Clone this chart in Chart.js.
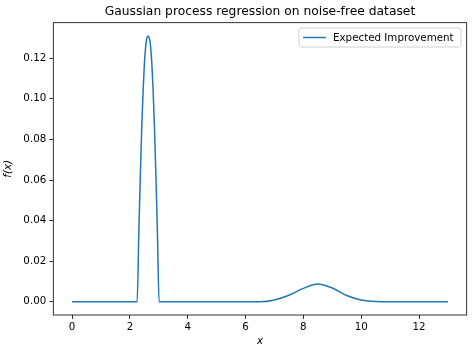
<!DOCTYPE html>
<html>
<head>
<meta charset="utf-8">
<script src="https://cdn.jsdelivr.net/npm/chart.js@4/dist/chart.umd.min.js"></script>
<style>
html,body{margin:0;padding:0;background:#fff;}
#wrap{width:474px;height:355px;position:relative;}
</style>
</head>
<body>
<div id="wrap"><canvas id="c" width="474" height="355"></canvas></div>
<script>
// ---- data ----
const xValues = [0, 1, 2, 2.25, 2.31, 2.36, 2.41, 2.46, 2.50, 2.54, 2.58, 2.63, 2.68, 2.72, 2.76, 2.80, 2.85, 2.90, 2.95, 3.01, 4, 5, 6, 6.5, 7.0, 7.5, 8.0, 8.5, 9.0, 9.5, 10.0, 10.5, 11, 12, 13];
const eiValues = [0, 0, 0, 0, 0.035, 0.062, 0.086, 0.105, 0.117, 0.125, 0.1295, 0.131, 0.1295, 0.125, 0.117, 0.105, 0.086, 0.062, 0.035, 0, 0, 0, 0, 0.0000, 0.0009, 0.0032, 0.0066, 0.0088, 0.0068, 0.0031, 0.0009, 0.0001, 0, 0, 0];
const xTicks = [0, 2, 4, 6, 8, 10, 12];
const yTicks = [0.00, 0.02, 0.04, 0.06, 0.08, 0.10, 0.12];
const seriesLabel = "Expected Improvement";
const chartTitle = "Gaussian process regression on noise-free dataset";
const xLabel = "x";
const yLabel = "f(x)";

const points = xValues.map((x, i) => ({x: x, y: eiValues[i]}));
const FONT = "'DejaVu Sans', sans-serif";

const decor = {
  id: 'decor',
  afterDraw(chart) {
    const ctx = chart.ctx;
    const a = chart.chartArea;
    ctx.save();
    // frame
    ctx.strokeStyle = '#000';
    ctx.lineWidth = 0.8;
    ctx.strokeRect(a.left, a.top, a.right - a.left, a.bottom - a.top);
    // title
    ctx.fillStyle = '#000';
    ctx.font = "12.3px " + FONT;
    ctx.textAlign = 'center';
    ctx.textBaseline = 'middle';
    ctx.fillText(chartTitle, (a.left + a.right) / 2, 12);
    // legend
    const bx = 299, by = 28, bw = 162, bh = 19, r = 2.5;
    ctx.beginPath();
    ctx.moveTo(bx + r, by);
    ctx.lineTo(bx + bw - r, by);
    ctx.quadraticCurveTo(bx + bw, by, bx + bw, by + r);
    ctx.lineTo(bx + bw, by + bh - r);
    ctx.quadraticCurveTo(bx + bw, by + bh, bx + bw - r, by + bh);
    ctx.lineTo(bx + r, by + bh);
    ctx.quadraticCurveTo(bx, by + bh, bx, by + bh - r);
    ctx.lineTo(bx, by + r);
    ctx.quadraticCurveTo(bx, by, bx + r, by);
    ctx.closePath();
    ctx.fillStyle = 'rgba(255,255,255,0.8)';
    ctx.fill();
    ctx.strokeStyle = '#d0d0d0';
    ctx.lineWidth = 1;
    ctx.stroke();
    ctx.strokeStyle = '#1f77b4';
    ctx.lineWidth = 1.5;
    ctx.beginPath();
    ctx.moveTo(303, by + bh / 2);
    ctx.lineTo(326, by + bh / 2);
    ctx.stroke();
    ctx.fillStyle = '#000';
    ctx.font = "10.3px " + FONT;
    ctx.textAlign = 'left';
    ctx.fillText(seriesLabel, 333, by + bh / 2 + 0.5);
    ctx.restore();
  }
};

new Chart(document.getElementById('c'), {
  type: 'line',
  data: {
    datasets: [{
      label: seriesLabel,
      data: points,
      borderColor: '#1f77b4',
      borderWidth: 1.5,
      pointRadius: 0,
      fill: false,
      cubicInterpolationMode: 'monotone'
    }]
  },
  options: {
    responsive: false,
    animation: false,
    devicePixelRatio: 1,
    layout: {padding: {left: 0, right: 7.3, top: 22.7, bottom: 0}},
    plugins: {legend: {display: false}, title: {display: false}, tooltip: {enabled: false}},
    scales: {
      x: {
        type: 'linear',
        min: -0.65,
        max: 13.65,
        afterBuildTicks: s => { s.ticks = xTicks.map(v => ({value: v})); },
        afterFit: s => { s.height = 40; },
        ticks: {color: '#000', font: {family: FONT, size: 10.3}, padding: 2, maxRotation: 0,
                callback: v => String(v)},
        grid: {drawOnChartArea: false, drawTicks: true, tickLength: 4, color: '#000', lineWidth: 0.8},
        border: {display: false},
        title: {display: true, text: xLabel, color: '#000', font: {family: FONT, size: 10.3, style: 'italic'}, padding: {top: 0, bottom: 7}}
      },
      y: {
        type: 'linear',
        min: -0.0065,
        max: 0.1375,
        afterBuildTicks: s => { s.ticks = yTicks.map(v => ({value: v})); },
        afterFit: s => { s.width = 53.3; },
        ticks: {color: '#000', font: {family: FONT, size: 10.3}, padding: 3,
                callback: v => Number(v).toFixed(2)},
        grid: {drawOnChartArea: false, drawTicks: true, tickLength: 4, color: '#000', lineWidth: 0.8},
        border: {display: false},
        title: {display: true, text: yLabel, color: '#000', font: {family: FONT, size: 10.3, style: 'italic'}, padding: {top: 2, bottom: 0}}
      }
    }
  },
  plugins: [decor]
});
</script>
</body>
</html>
